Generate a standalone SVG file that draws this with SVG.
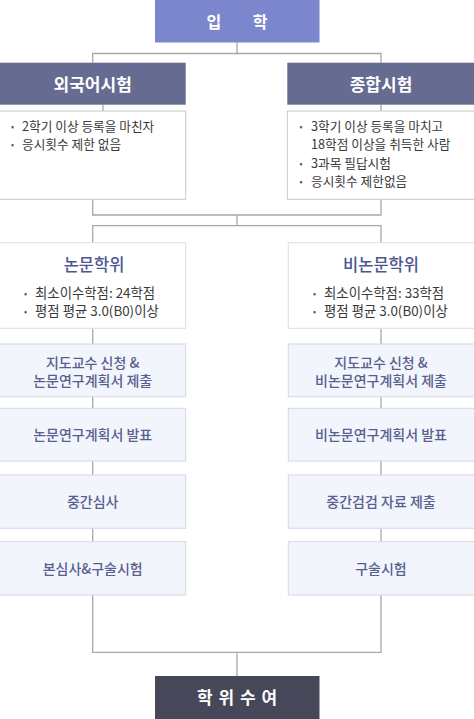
<svg xmlns="http://www.w3.org/2000/svg" width="474" height="719" viewBox="0 0 474 719">
<style>
text{font-family:"Noto Sans CJK KR","Noto Sans",sans-serif;}
.top{fill:#7b86cc;}
.hdr{fill:#666b92;}
.end{fill:#464859;}
.wbox{fill:#ffffff;stroke:#c8c8c8;stroke-width:1;}
.wbox2{fill:#ffffff;stroke:#dedede;stroke-width:1;}
.lbox{fill:#f3f5fc;stroke:#d3d7e4;stroke-width:1;}
.wt{fill:#ffffff;font-weight:bold;text-anchor:middle;}
.bl{fill:#3a3a3a;font-size:12.7px;}
.bl2{fill:#3a3a3a;font-size:13.4px;}
.dot{fill:#555;font-size:9px;}
.ttl{fill:#4c5690;font-size:16.5px;font-weight:500;text-anchor:middle;}
.st{fill:#585f8f;font-size:14px;font-weight:500;text-anchor:middle;}
.con{stroke:#a8a8a8;stroke-width:1.3;fill:none;}
</style>
<g id="connectors">
<path class="con" d="M237,42.5V53.5M92.7,62.7V53.5H381V62.7"/>
<path class="con" d="M103,104.5V111M381,104.5V111"/>
<path class="con" d="M92.7,199.3V215H381V199.3M237,215V225.7M92.7,242.7V225.7H381V242.7"/>
<path class="con" d="M92.7,328.3V344M381,328.3V344"/>
<path class="con" d="M92.7,396.7V408.3M381,396.7V408.3"/>
<path class="con" d="M92.7,461V475M381,461V475"/>
<path class="con" d="M92.7,528.3V541.7M381,528.3V541.7"/>
<path class="con" d="M92.7,595V652.3H381V595M237,652.3V676"/>
</g>
<g id="n-admission">
<rect class="top" x="155" y="0" width="164.5" height="42.5"/>
<text class="wt" x="237" y="27.5" font-size="16" word-spacing="28">입 학</text>
</g>
<g id="n-foreign-exam">
<rect class="hdr" x="-1" y="62.7" width="186.7" height="42"/>
<text class="wt" x="92.7" y="90.5" font-size="17">외국어시험</text>
</g>
<g id="n-comp-exam">
<rect class="hdr" x="287.3" y="62.7" width="188" height="42"/>
<text class="wt" x="381" y="90.5" font-size="17">종합시험</text>
</g>
<g id="n-foreign-detail">
<rect class="wbox" x="-1" y="111" width="186.7" height="88.3"/>
<text class="dot" x="11" y="130">•</text>
<text class="bl" x="22" y="131">2학기 이상 등록을 마친자</text>
<text class="dot" x="11" y="148.3">•</text>
<text class="bl" x="22" y="149.3">응시횟수 제한 없음</text>
</g>
<g id="n-comp-detail">
<rect class="wbox" x="287.3" y="111" width="188" height="88.3"/>
<text class="dot" x="299.5" y="129.5">•</text>
<text class="bl" x="311" y="130.5">3학기 이상 등록을 마치고<tspan x="311" y="148.5">18학점 이상을 취득한 사람</tspan></text>
<text class="dot" x="299.5" y="166.8">•</text>
<text class="bl" x="311" y="167.8">3과목 필답시험</text>
<text class="dot" x="299.5" y="185.2">•</text>
<text class="bl" x="311" y="186.2">응시횟수 제한없음</text>
</g>
<g id="n-thesis">
<rect class="wbox2" x="-1" y="242.7" width="186.7" height="85.6"/>
<text class="ttl" x="94" y="271">논문학위</text>
<text class="dot" x="24" y="296.5">•</text>
<text class="bl2" x="35" y="297.8">최소이수학점: 24학점</text>
<text class="dot" x="24" y="315">•</text>
<text class="bl2" x="35" y="316.2">평점 평균 3.0(B0)이상</text>
</g>
<g id="n-nonthesis">
<rect class="wbox2" x="288.3" y="242.7" width="187" height="85.6"/>
<text class="ttl" x="381" y="271">비논문학위</text>
<text class="dot" x="313" y="296.5">•</text>
<text class="bl2" x="324" y="297.8">최소이수학점: 33학점</text>
<text class="dot" x="313" y="315">•</text>
<text class="bl2" x="324" y="316.2">평점 평균 3.0(B0)이상</text>
</g>
<g id="n-t1">
<rect class="lbox" x="-1" y="344" width="186.7" height="52.7"/>
<text class="st" x="92.7" y="367.8">지도교수 신청 &amp;<tspan x="92.7" y="385.5">논문연구계획서 제출</tspan></text>
</g>
<g id="n-t2">
<rect class="lbox" x="-1" y="408.3" width="186.7" height="52.7"/>
<text class="st" x="92.7" y="440">논문연구계획서 발표</text>
</g>
<g id="n-t3">
<rect class="lbox" x="-1" y="475" width="186.7" height="53.3"/>
<text class="st" x="92.7" y="506.7">중간심사</text>
</g>
<g id="n-t4">
<rect class="lbox" x="-1" y="541.7" width="186.7" height="53.3"/>
<text class="st" x="92.7" y="574">본심사&amp;구술시험</text>
</g>
<g id="n-n1">
<rect class="lbox" x="288.3" y="344" width="187" height="52.7"/>
<text class="st" x="381" y="367.8">지도교수 신청 &amp;<tspan x="381" y="385.5">비논문연구계획서 제출</tspan></text>
</g>
<g id="n-n2">
<rect class="lbox" x="288.3" y="408.3" width="187" height="52.7"/>
<text class="st" x="381" y="440">비논문연구계획서 발표</text>
</g>
<g id="n-n3">
<rect class="lbox" x="288.3" y="475" width="187" height="53.3"/>
<text class="st" x="381" y="506.7">중간검검 자료 제출</text>
</g>
<g id="n-n4">
<rect class="lbox" x="288.3" y="541.7" width="187" height="53.3"/>
<text class="st" x="381" y="574">구술시험</text>
</g>
<g id="n-degree">
<rect class="end" x="155" y="676" width="164.5" height="44"/>
<text class="wt" x="237" y="704" font-size="17" word-spacing="2">학 위 수 여</text>
</g>
</svg>
